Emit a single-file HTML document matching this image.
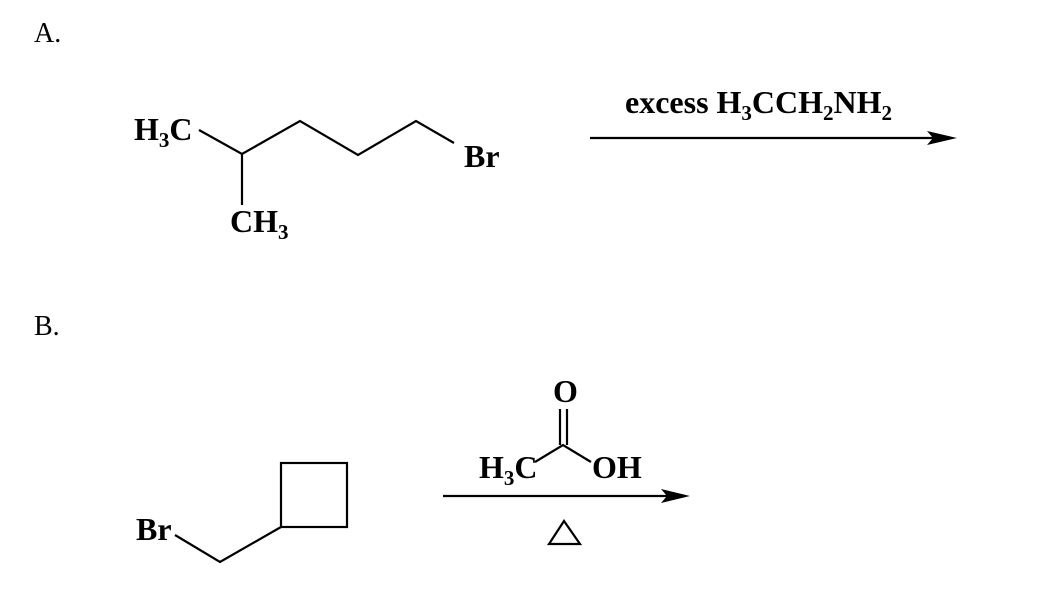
<!DOCTYPE html>
<html><head><meta charset="utf-8"><style>
html,body{margin:0;padding:0;background:#fff;width:1038px;height:606px;overflow:hidden}
svg{display:block}
text{font-family:"Liberation Serif",serif;fill:#000}
.b{font-weight:bold;font-size:32px}
</style></head><body>
<svg width="1038" height="606" viewBox="0 0 1038 606">
<text x="34" y="42" font-size="28">A.</text>
<text x="34" y="335" font-size="28">B.</text>
<g stroke="#000" stroke-width="2.2" fill="none" stroke-linejoin="miter">
<polyline points="199,130 242,154 300,121 358,155 416,121 454,143"/>
<line x1="242" y1="154" x2="242" y2="205"/>
<line x1="590" y1="138" x2="935" y2="138"/>
<rect x="281" y="463" width="66" height="64"/>
<polyline points="175,535 220,562 281,527"/>
<line x1="443" y1="496" x2="670" y2="496"/>
<polyline points="535,462 563,445 591,462"/>
<line x1="560" y1="409" x2="560" y2="445"/>
<line x1="567" y1="409" x2="567" y2="445"/>
<polygon points="564,521 549,544 580,544"/>
</g>
<polygon points="957,138 927,131 933,138 927,145" fill="#000"/>
<polygon points="690,496 661,489 667,496 661,503" fill="#000"/>
<text class="b" x="134" y="140">H<tspan font-size="21" dy="7">3</tspan><tspan dy="-7">C</tspan></text>
<text class="b" x="230" y="232">CH<tspan font-size="21" dy="7">3</tspan></text>
<text class="b" x="464" y="167">Br</text>
<text class="b" x="625" y="113">excess H<tspan font-size="21" dy="7">3</tspan><tspan dy="-7">CCH</tspan><tspan font-size="21" dy="7">2</tspan><tspan dy="-7">NH</tspan><tspan font-size="21" dy="7">2</tspan></text>
<text class="b" x="136" y="540">Br</text>
<text class="b" x="479" y="478">H<tspan font-size="21" dy="7">3</tspan><tspan dy="-7">C</tspan></text>
<text class="b" x="592" y="478">OH</text>
<text class="b" x="553" y="402">O</text>
</svg>
</body></html>
